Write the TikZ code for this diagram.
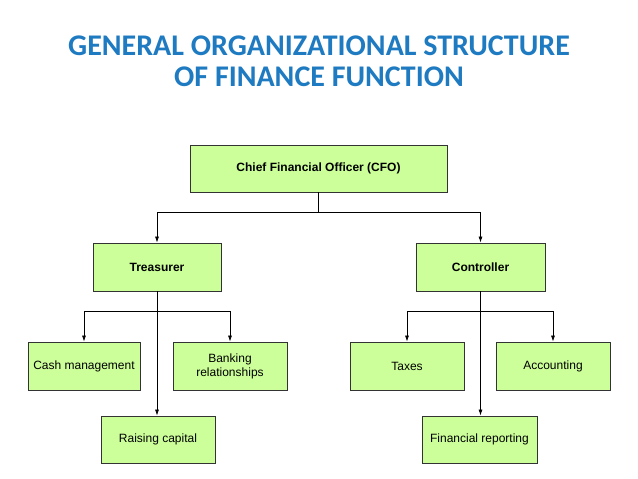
\documentclass[tikz,border=0pt]{standalone}
\usepackage{fontspec}
\setmainfont{Liberation Sans}
\newfontfamily\titlefont{Carlito}
\usetikzlibrary{arrows.meta}
\definecolor{boxfill}{HTML}{CCFF99}
\definecolor{titleblue}{HTML}{1F7BC1}
\begin{document}
\begin{tikzpicture}[x=1pt,y=-1pt,
  box/.style={draw=black!80,fill=boxfill,line width=0.8pt,inner sep=0pt,align=center,font=\fontsize{12}{14}\selectfont},
  bbox/.style={box,font=\fontsize{12}{14}\selectfont\bfseries},
  conn/.style={line width=0.7pt},
  arr/.style={conn,-{Latex[length=6pt,width=4pt]}}]
\useasboundingbox[fill=white] (0,0) rectangle (638,479);
\node[font=\titlefont\fontsize{30}{31}\selectfont\bfseries,text=titleblue,align=center] (title) at (319,61) {GENERAL ORGANIZATIONAL STRUCTURE\\OF FINANCE FUNCTION};
\node[bbox,minimum width=257,minimum height=47] (cfo) at (318.5,168.5) {Chief Financial Officer (CFO)};
\node[bbox,minimum width=128,minimum height=48] (tre) at (157,267) {Treasurer};
\node[bbox,minimum width=129,minimum height=48] (con) at (480.5,267) {Controller};
\node[box,minimum width=112,minimum height=48] (cash) at (84,366) {Cash management};
\node[box,minimum width=114,minimum height=48] (bank) at (230,366) {Banking\\relationships};
\node[box,minimum width=114,minimum height=47] (raise) at (158,439.5) {Raising capital};
\node[box,minimum width=114,minimum height=48] (tax) at (407,366) {Taxes};
\node[box,minimum width=114,minimum height=48] (acc) at (553,366) {Accounting};
\node[box,minimum width=115,minimum height=47] (fin) at (479.5,439.5) {Financial reporting};
\coordinate (j1) at (318.5,212);
\coordinate (j2) at (157,311);
\coordinate (j3) at (480.5,311);
\draw[conn] (cfo.south) -- (j1);
\draw[arr] (j1) -| (tre.north);
\draw[arr] (j1) -| (con.north);
\draw[conn] (tre.south) -- (j2);
\draw[arr] (j2) -| (cash.north);
\draw[arr] (j2) -| (bank.north);
\draw[arr] (tre.south) -- (tre.south |- raise.north);
\draw[conn] (con.south) -- (j3);
\draw[arr] (j3) -| (tax.north);
\draw[arr] (j3) -| (acc.north);
\draw[arr] (con.south) -- (con.south |- fin.north);
\end{tikzpicture}
\end{document}
